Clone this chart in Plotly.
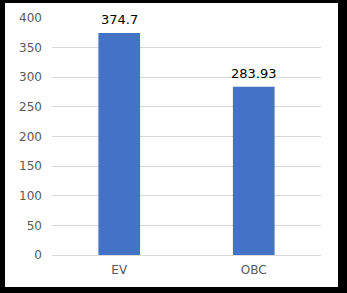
import plotly.graph_objects as go

categories = ["EV", "OBC"]
values = [374.7, 283.93]
labels = ["374.7", "283.93"]
y_ticks = [0, 50, 100, 150, 200, 250, 300, 350, 400]

W, H = 347, 293
L, R, T, B = 52, 26, 18, 38
pw = W - L - R
ph = H - T - B

fig = go.Figure(go.Bar(
    x=categories, y=values,
    marker=dict(color="#4472C4", line=dict(width=0)),
))

for c, v, t in zip(categories, values, labels):
    fig.add_annotation(x=c, y=v, text=t, showarrow=False, yanchor="bottom",
                       yshift=4, font=dict(family="DejaVu Sans", size=13, color="#000000"))

# white panel on black background
fig.add_shape(type="rect", xref="paper", yref="paper",
              x0=(5 - L) / pw, x1=(338 - L) / pw,
              y0=(T + ph - 287) / ph, y1=(T + ph - 3) / ph,
              fillcolor="white", line=dict(width=0), layer="below")

fig.update_layout(
    width=W, height=H,
    margin=dict(l=L, r=R, t=T, b=B, pad=0),
    paper_bgcolor="black", plot_bgcolor="rgba(0,0,0,0)",
    bargap=0.69, showlegend=False,
    font=dict(family="DejaVu Sans", size=12, color="#595959"),
)
fig.update_yaxes(range=[0, 400], tickvals=y_ticks, showgrid=True,
                 gridcolor="#D9D9D9", gridwidth=1, zeroline=False,
                 showline=False, ticks="", ticklen=0, ticklabelstandoff=9,
                 tickfont=dict(size=12, color="#595959"))
fig.update_xaxes(showline=True, linecolor="#D9D9D9", linewidth=1,
                 ticks="", ticklabelstandoff=4,
                 tickfont=dict(size=12, color="#595959"))

fig.write_html("out.html", config=dict(displayModeBar=False))
